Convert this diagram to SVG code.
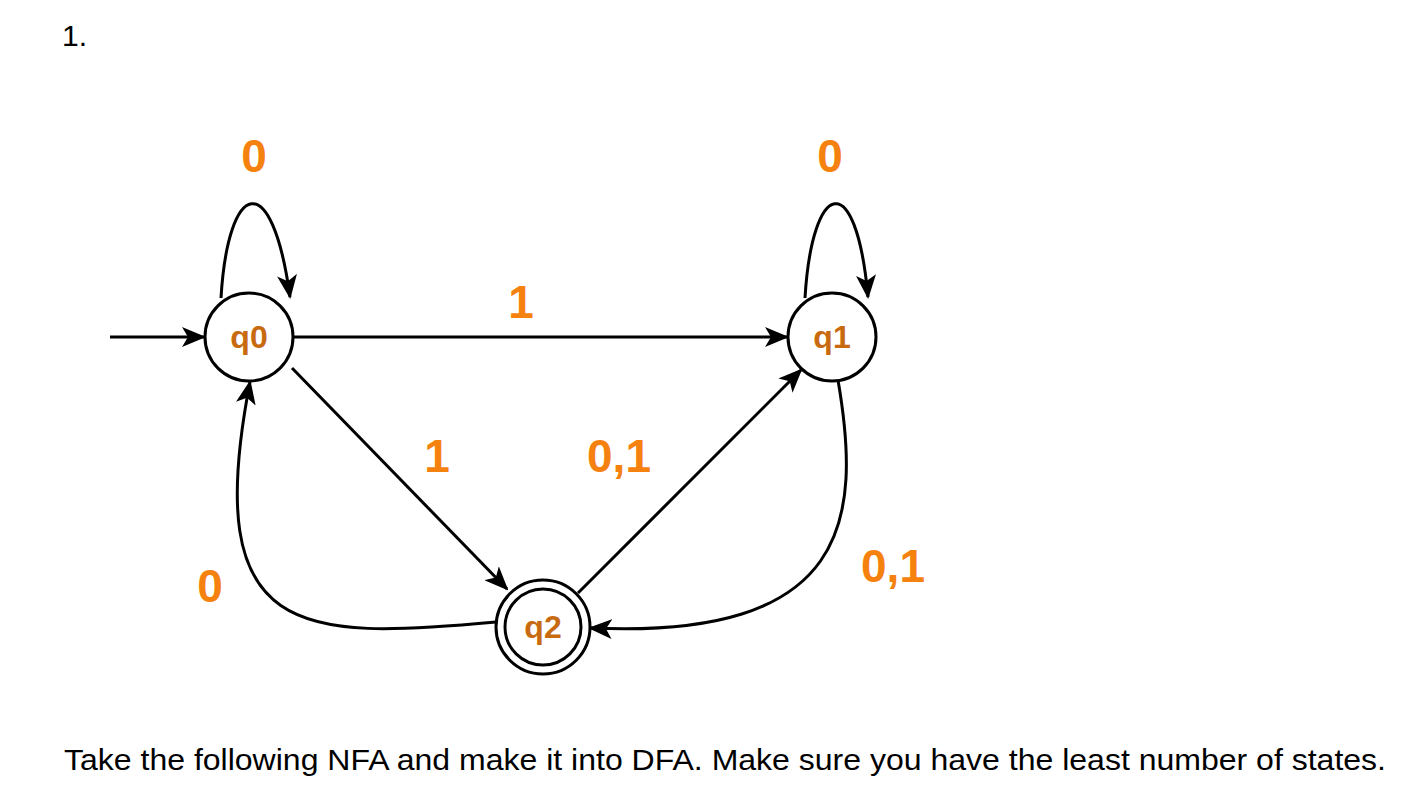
<svg xmlns="http://www.w3.org/2000/svg" width="1402" height="786" viewBox="0 0 1402 786">
<style>
.st{fill:#fff;stroke:#000;stroke-width:3}
.e{fill:none;stroke:#000;stroke-width:3;marker-end:url(#a)}
.n{font-family:"Liberation Sans",Arial,sans-serif;font-weight:bold;font-size:32px;fill:#C86A10;text-anchor:middle}
.l{font-family:"Liberation Sans",Arial,sans-serif;font-weight:bold;font-size:46px;fill:#F5820F;text-anchor:middle}
.t{font-family:"Liberation Sans",Arial,sans-serif;font-size:30px;fill:#000}
</style>
<defs><marker id="a" markerWidth="12" markerHeight="12" refX="11" refY="6" orient="auto" markerUnits="userSpaceOnUse" viewBox="0 0 12 12"><path d="M0,0 L12,6 L0,12 L3,6 Z" fill="#000"/></marker>
<marker id="b" markerWidth="24" markerHeight="20" refX="22" refY="10" orient="auto" markerUnits="userSpaceOnUse" viewBox="0 0 24 20"><path d="M0,0 L24,10 L0,20 L6,10 Z" fill="#000"/></marker></defs>
<rect width="1402" height="786" fill="#fff"/>
<text class="t" x="62" y="46">1.</text>
<g id="edges" style="marker-end:url(#b)">
<path class="e" style="marker-end:url(#b)" d="M110,337 L204,337"/>
<path class="e" style="marker-end:url(#b)" d="M293,337 L787,337"/>
<path class="e" style="marker-end:url(#b)" d="M221,298 C228,180 272,165 290,297"/>
<path class="e" style="marker-end:url(#b)" d="M805,298 C812,180 856,165 868,297"/>
<path class="e" style="marker-end:url(#b)" d="M292,368 L507,589"/>
<path class="e" style="marker-end:url(#b)" d="M578,593 L801,370"/>
<path class="e" style="marker-end:url(#b)" d="M496,622 C300,640 200,640 250,382"/>
<path class="e" style="marker-end:url(#b)" d="M838,380 C862,520 850,640 590,628"/>
</g>
<g id="labels">
<text class="l" x="254" y="172">0</text>
<text class="l" x="830" y="172">0</text>
<text class="l" x="521" y="318">1</text>
<text class="l" x="437" y="472">1</text>
<text class="l" x="619" y="472">0,1</text>
<text class="l" x="210" y="602">0</text>
<text class="l" x="893" y="582">0,1</text>
</g>
<g id="q0"><circle class="st" cx="249" cy="337" r="44"/><text class="n" x="249" y="348">q0</text></g>
<g id="q1"><circle class="st" cx="832" cy="337" r="44"/><text class="n" x="832" y="348">q1</text></g>
<g id="q2"><circle class="st" cx="543" cy="627" r="47"/><circle class="st" cx="543" cy="627" r="38"/><text class="n" x="543" y="638">q2</text></g>
<text class="t" x="64" y="770" textLength="1322" lengthAdjust="spacingAndGlyphs">Take the following NFA and make it into DFA. Make sure you have the least number of states.</text>
</svg>
